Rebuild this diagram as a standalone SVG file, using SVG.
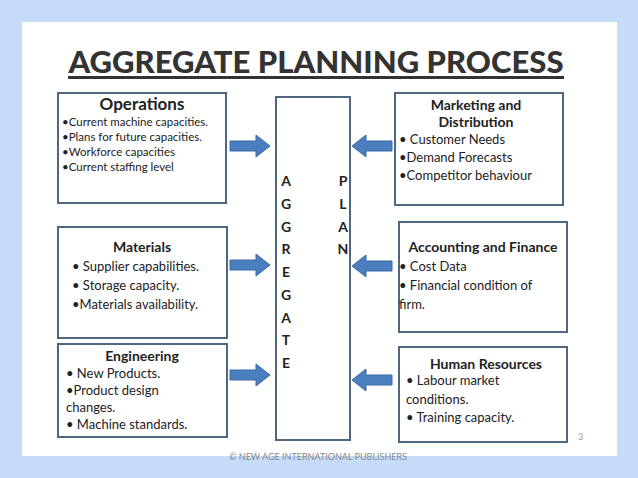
<svg xmlns="http://www.w3.org/2000/svg" width="638" height="478" viewBox="0 0 638 478">
<defs>
<style>
text{font-family:Lato,"Open Sans","Liberation Sans",sans-serif;fill:#222}
.box{fill:#fff;stroke:#4f6780;stroke-width:2}
.h{font-weight:bold;font-size:14px;text-anchor:middle}
.t{font-size:13px}
.c{font-weight:bold;font-size:14px;text-anchor:middle}
.arr{fill:#4a7ebf;stroke:#3a6aa5;stroke-width:1}
</style>
<path id="ar" d="M0,-5 H26 V-11 L40,0 L26,11 V5 H0 Z"/>
</defs>
<rect width="638" height="478" fill="#c5dbf7"/>
<rect x="22" y="22" width="595" height="434" fill="#fff"/>
<text x="316" y="73" font-size="31" font-weight="900" text-anchor="middle" textLength="495" lengthAdjust="spacingAndGlyphs" style="fill:#333">AGGREGATE PLANNING PROCESS</text>
<rect x="68" y="76" width="496" height="3" fill="#333"/>
<g id="operations"><rect class="box" x="58" y="93" width="168" height="110"/>
<text x="142" y="110" class="h" style="font-size:17px">Operations</text>
<text class="t" x="62" style="font-size:11.5px"><tspan y="126">•Current machine capacities.</tspan><tspan x="62" y="141">•Plans for future capacities.</tspan><tspan x="62" y="156">•Workforce capacities</tspan><tspan x="62" y="171">•Current staffing level</tspan></text></g>
<g id="materials"><rect class="box" x="58" y="227" width="169" height="111"/>
<text x="142" y="252" class="h">Materials</text>
<text class="t" x="72"><tspan y="271">• Supplier capabilities.</tspan><tspan x="72" y="290">• Storage capacity.</tspan><tspan x="72" y="309">•Materials availability.</tspan></text></g>
<g id="engineering"><rect class="box" x="58" y="344" width="169" height="93"/>
<text x="142" y="361" class="h">Engineering</text>
<text class="t" x="66"><tspan y="378">• New Products.</tspan><tspan x="66" y="395">•Product design</tspan><tspan x="66" y="412">changes.</tspan><tspan x="66" y="429">• Machine standards.</tspan></text></g>
<g id="plan"><rect class="box" x="276" y="97" width="74" height="343"/>
<g class="c"><text x="286" y="186">A</text><text x="286" y="209">G</text><text x="286" y="232">G</text><text x="286" y="254">R</text><text x="286" y="277">E</text><text x="286" y="300">G</text><text x="286" y="323">A</text><text x="286" y="345">T</text><text x="286" y="368">E</text>
<text x="343" y="186">P</text><text x="343" y="209">L</text><text x="343" y="232">A</text><text x="343" y="254">N</text></g></g>
<g id="marketing"><rect class="box" x="395" y="93" width="168" height="112"/>
<text x="476" y="110" class="h">Marketing and</text><text x="476" y="127" class="h">Distribution</text>
<text class="t" x="399"><tspan y="144">• Customer Needs</tspan><tspan x="399" y="162">•Demand Forecasts</tspan><tspan x="399" y="180">•Competitor behaviour</tspan></text></g>
<g id="accounting"><rect class="box" x="399" y="222" width="168" height="110"/>
<text x="483" y="252" class="h">Accounting and Finance</text>
<text class="t" x="399"><tspan y="271">• Cost Data</tspan><tspan x="399" y="290">• Financial condition of</tspan><tspan x="399" y="309">firm.</tspan></text></g>
<g id="hr"><rect class="box" x="399" y="347" width="168" height="95"/>
<text x="486" y="369" class="h">Human Resources</text>
<text class="t" x="406"><tspan y="385">• Labour market</tspan><tspan x="406" y="404">conditions.</tspan><tspan x="406" y="422">• Training capacity.</tspan></text></g>
<g id="connectors">
<use href="#ar" class="arr" transform="translate(230,146)"/>
<use href="#ar" class="arr" transform="translate(230,265)"/>
<use href="#ar" class="arr" transform="translate(230,375)"/>
<use href="#ar" class="arr" transform="translate(392,146) scale(-1,1)"/>
<use href="#ar" class="arr" transform="translate(392,266) scale(-1,1)"/>
<use href="#ar" class="arr" transform="translate(392,380) scale(-1,1)"/>
</g>
<text x="578" y="440" font-size="9" style="fill:#999">3</text>
<text x="318" y="460" font-size="9" text-anchor="middle" style="fill:#888">© NEW AGE INTERNATIONAL PUBLISHERS</text>
</svg>
